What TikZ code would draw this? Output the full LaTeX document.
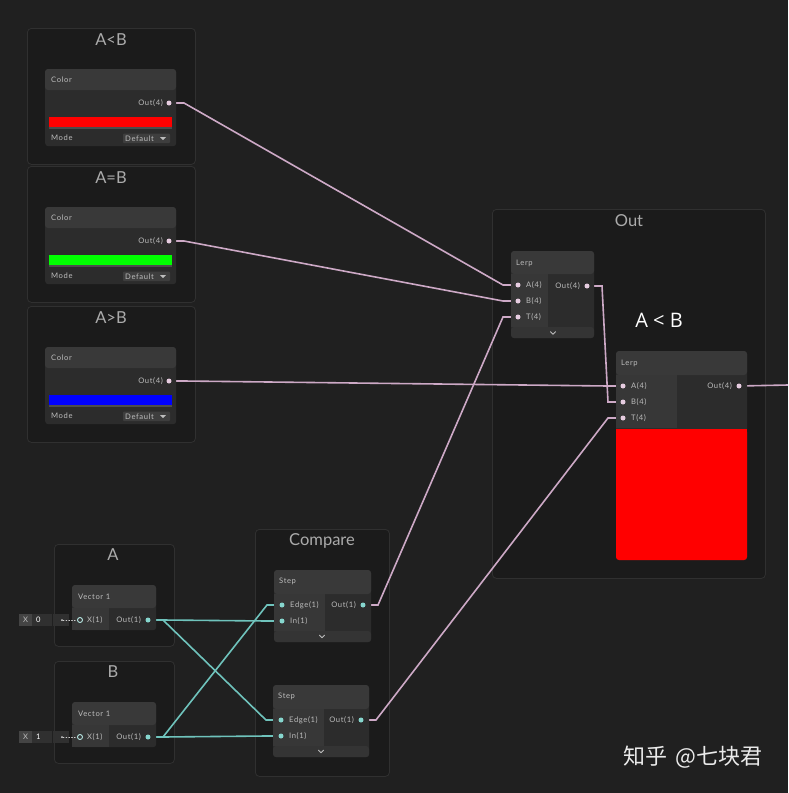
\documentclass[tikz,border=0pt]{standalone}
\usepackage{fontspec}
\setmainfont{Lato}
\newfontfamily\uifont[LetterSpace=8]{Lato}
\newfontfamily\cjkfont{Noto Sans CJK SC}
\newfontfamily\bigfont{Open Sans}
\usetikzlibrary{calc}
\pgfdeclarelayer{bg}
\pgfdeclarelayer{wires}
\pgfsetlayers{bg,wires,main}
\definecolor{bgc}{HTML}{202020}
\definecolor{grp}{HTML}{1B1B1B}
\definecolor{grpline}{HTML}{303030}
\definecolor{hdr}{HTML}{393939}
\definecolor{body}{HTML}{2C2C2C}
\definecolor{inpanel}{HTML}{373737}
\definecolor{barc}{HTML}{343434}
\definecolor{fld}{HTML}{303030}
\definecolor{fldx}{HTML}{444444}
\definecolor{dd}{HTML}{3E3E3E}
\definecolor{wirepink}{HTML}{CDA9C6}
\definecolor{wireteal}{HTML}{6FC3BC}
\definecolor{pdot}{HTML}{E6CCE0}
\definecolor{tdot}{HTML}{86D6CE}
\definecolor{txt}{HTML}{BDBDBD}
\definecolor{ttlc}{HTML}{ABABAB}
\begin{document}
\begin{tikzpicture}[x=1pt, y=-1pt, line join=round, line cap=round,
  group/.style={draw=grpline, fill=grp, rounded corners=4pt, line width=0.8pt, anchor=north west, inner sep=0pt},
  box/.style={fill=body, rounded corners=3pt, anchor=north west, inner sep=0pt},
  ttl/.style={text=ttlc, font=\fontsize{16.5}{16.5}\selectfont, inner sep=0pt},
  lbl/.style={text=txt, font=\uifont\fontsize{7.6}{7.6}\selectfont, inner sep=0pt},
  pport/.style={circle, fill=pdot, inner sep=0pt, minimum size=5pt},
  tport/.style={circle, fill=tdot, inner sep=0pt, minimum size=5pt},
  hport/.style={circle, draw=tdot!60!white, line width=0.9pt, inner sep=0pt, minimum size=5pt},
  wire/.style={line width=1.6pt, to path={-- ++(15,0) -- ($(\tikztotarget)+(-15,0)$) -- (\tikztotarget)}},
  pwire/.style={wire, draw=wirepink},
  twire/.style={wire, draw=wireteal},
  chev/.pic={\draw[txt, line width=0.9pt] (-2.5,-1.2) -- (0,1.2) -- (2.5,-1.2);}]
\begin{pgfonlayer}{bg}
\fill[bgc] (0,0) rectangle (788,793);
\end{pgfonlayer}
\useasboundingbox (0,0) rectangle (788,793);

% colour inputs
\foreach \i/\gy/\ttl/\col in {1/28/A<B/red, 2/166/A=B/green, 3/306/A>B/blue}{
  \begin{pgfonlayer}{bg}
  \node[group, minimum width=168pt, minimum height=136pt] (g\i) at (27,\gy) {};
  \end{pgfonlayer}
  \node[ttl] at (111,\gy+12) {\ttl};
  \node[box, minimum width=131pt, minimum height=77pt] (c\i) at (45,\gy+41) {};
  \fill[hdr, rounded corners=3pt] (45,\gy+41) rectangle (176,\gy+62);
  \node[lbl, anchor=west] at (51,\gy+52) {Color};
  \node[pport] (o\i) at (169,\gy+75) {};
  \node[lbl, anchor=east] at (163,\gy+75) {Out(4)};
  \fill[black!70] (49,\gy+89) rectangle (172,\gy+100.5);
  \fill[\col] (49,\gy+88.5) rectangle (172,\gy+98.5);
  \node[lbl, anchor=west] at (51,\gy+110) {Mode};
  \fill[dd, rounded corners=1pt] (123,\gy+105.5) rectangle (170,\gy+115);
  \node[lbl, anchor=west] at (125,\gy+110.5) {Default};
  \fill[txt] (160,\gy+109) -- (166,\gy+109) -- (163,\gy+112) -- cycle;
}

% output group
\begin{pgfonlayer}{bg}
\node[group, minimum width=273pt, minimum height=369pt] (gout) at (492,209) {};
\end{pgfonlayer}
\node[ttl] at (629,221) {Out};
\node[text=white, font=\bigfont\fontsize{20}{20}\selectfont, inner sep=0pt] (cmt) at (659,320) {A < B};

\node[box, minimum width=83pt, minimum height=87pt] (lerpa) at (511,251) {};
\fill[hdr, rounded corners=3pt] (511,251) rectangle (594,274);
\fill[inpanel] (511,274) rectangle (548,327);
\fill[barc, rounded corners=3pt] (511,327) rectangle (594,338);
\pic at (553,333) {chev};
\node[lbl, anchor=west] at (516,263) {Lerp};
\node[pport] (la) at (518,285) {};
\node[pport] (lb) at (518,301) {};
\node[pport] (lt) at (518,317) {};
\node[pport] (lo) at (587,286) {};
\node[lbl, anchor=west] at (526,285) {A(4)};
\node[lbl, anchor=west] at (526,301) {B(4)};
\node[lbl, anchor=west] at (526,317) {T(4)};
\node[lbl, anchor=east] at (580,286) {Out(4)};

\node[box, minimum width=131pt, minimum height=209pt] (lerpb) at (616,351) {};
\fill[hdr, rounded corners=3pt] (616,351) rectangle (747,375);
\fill[inpanel] (616,375) rectangle (677,428);
\fill[red, rounded corners=3pt] (616,429) rectangle (747,560);
\fill[red] (616,429) rectangle (747,436);
\node[lbl, anchor=west] at (621,363) {Lerp};
\node[pport] (ma) at (623,386) {};
\node[pport] (mb) at (623,402) {};
\node[pport] (mt) at (623,418) {};
\node[pport] (mo) at (739,386) {};
\node[lbl, anchor=west] at (631,386) {A(4)};
\node[lbl, anchor=west] at (631,402) {B(4)};
\node[lbl, anchor=west] at (631,418) {T(4)};
\node[lbl, anchor=east] at (732,386) {Out(4)};
\coordinate (rim) at (788,385);

% vector inputs
\foreach \n/\gy/\v in {A/544/0, B/661/1}{
  \begin{pgfonlayer}{bg}
  \node[group, minimum width=120pt, minimum height=102pt] (g\n) at (54,\gy) {};
  \end{pgfonlayer}
  \node[ttl] at (113,\gy+11) {\n};
  \node[box, minimum width=84pt, minimum height=45pt] (vec\n) at (72,\gy+41) {};
  \fill[hdr, rounded corners=3pt] (72,\gy+41) rectangle (156,\gy+64);
  \fill[inpanel] (72,\gy+64) rectangle (109,\gy+86);
  \node[lbl, anchor=west] at (78,\gy+53) {Vector 1};
  \node[hport] (x\n) at (80,\gy+76) {};
  \node[tport] (v\n) at (148,\gy+76) {};
  \node[lbl, anchor=west] at (87,\gy+76) {X(1)};
  \node[lbl, anchor=east] at (141,\gy+76) {Out(1)};
  \fill[fld] (19,\gy+70) rectangle (52,\gy+82);
  \fill[fldx] (19,\gy+70) rectangle (32,\gy+82);
  \node[lbl] at (25.5,\gy+76) {X};
  \node[lbl, anchor=west, text=white] at (36,\gy+76) {\v};
  \fill[fld] (53,\gy+70) rectangle (69,\gy+82);
  \node[circle, fill=white!85!black, inner sep=0pt, minimum size=2pt] (d\n) at (62,\gy+76) {};
  \draw[white!80!black, line width=0.8pt, dotted] (d\n) -- (x\n);
}

% compare group
\begin{pgfonlayer}{bg}
\node[group, minimum width=134pt, minimum height=247pt] (gcmp) at (255,529) {};
\end{pgfonlayer}
\node[ttl] at (322,541) {Compare};
\foreach \s/\sx/\sy/\sw in {a/274/570/97, b/273/685/96}{
  \node[box, minimum width=\sw pt, minimum height=72pt] (step\s) at (\sx,\sy) {};
  \fill[hdr, rounded corners=3pt] (\sx,\sy) rectangle (\sx+\sw,\sy+24);
  \fill[inpanel] (\sx,\sy+24) rectangle (\sx+51,\sy+61);
  \fill[barc, rounded corners=3pt] (\sx,\sy+61) rectangle (\sx+\sw,\sy+72);
  \pic at (\sx+48,\sy+66.5) {chev};
  \node[lbl, anchor=west] at (\sx+5,\sy+11) {Step};
  \node[tport] (s\s e) at (\sx+8,\sy+35) {};
  \node[tport] (s\s i) at (\sx+8,\sy+51) {};
  \node[tport] (s\s o) at (\sx+\sw-8,\sy+35) {};
  \node[lbl, anchor=west] at (\sx+16,\sy+35) {Edge(1)};
  \node[lbl, anchor=west] at (\sx+16,\sy+51) {In(1)};
  \node[lbl, anchor=east] at (\sx+\sw-15,\sy+35) {Out(1)};
}

\node[text=white!92!black, font=\cjkfont\fontsize{22}{22}\selectfont, inner sep=0pt] (mark) at (693,757) {知乎\hspace{0.35em}@七块君};

% connections
\begin{pgfonlayer}{wires}
\draw[twire] (vA) to (sai);
\draw[twire] (vA) to (sbe);
\draw[twire] (vB) to (sae);
\draw[twire] (vB) to (sbi);
\draw[pwire] (o1) to (la);
\draw[pwire] (o2) to (lb);
\draw[pwire] (o3) to (ma);
\draw[pwire] (lo) to (mb);
\draw[pwire] (sao) to (lt);
\draw[pwire] (sbo) to (mt);
\draw[pwire, line width=1.6pt] (mo) -- (rim);
\end{pgfonlayer}
\end{tikzpicture}
\end{document}
